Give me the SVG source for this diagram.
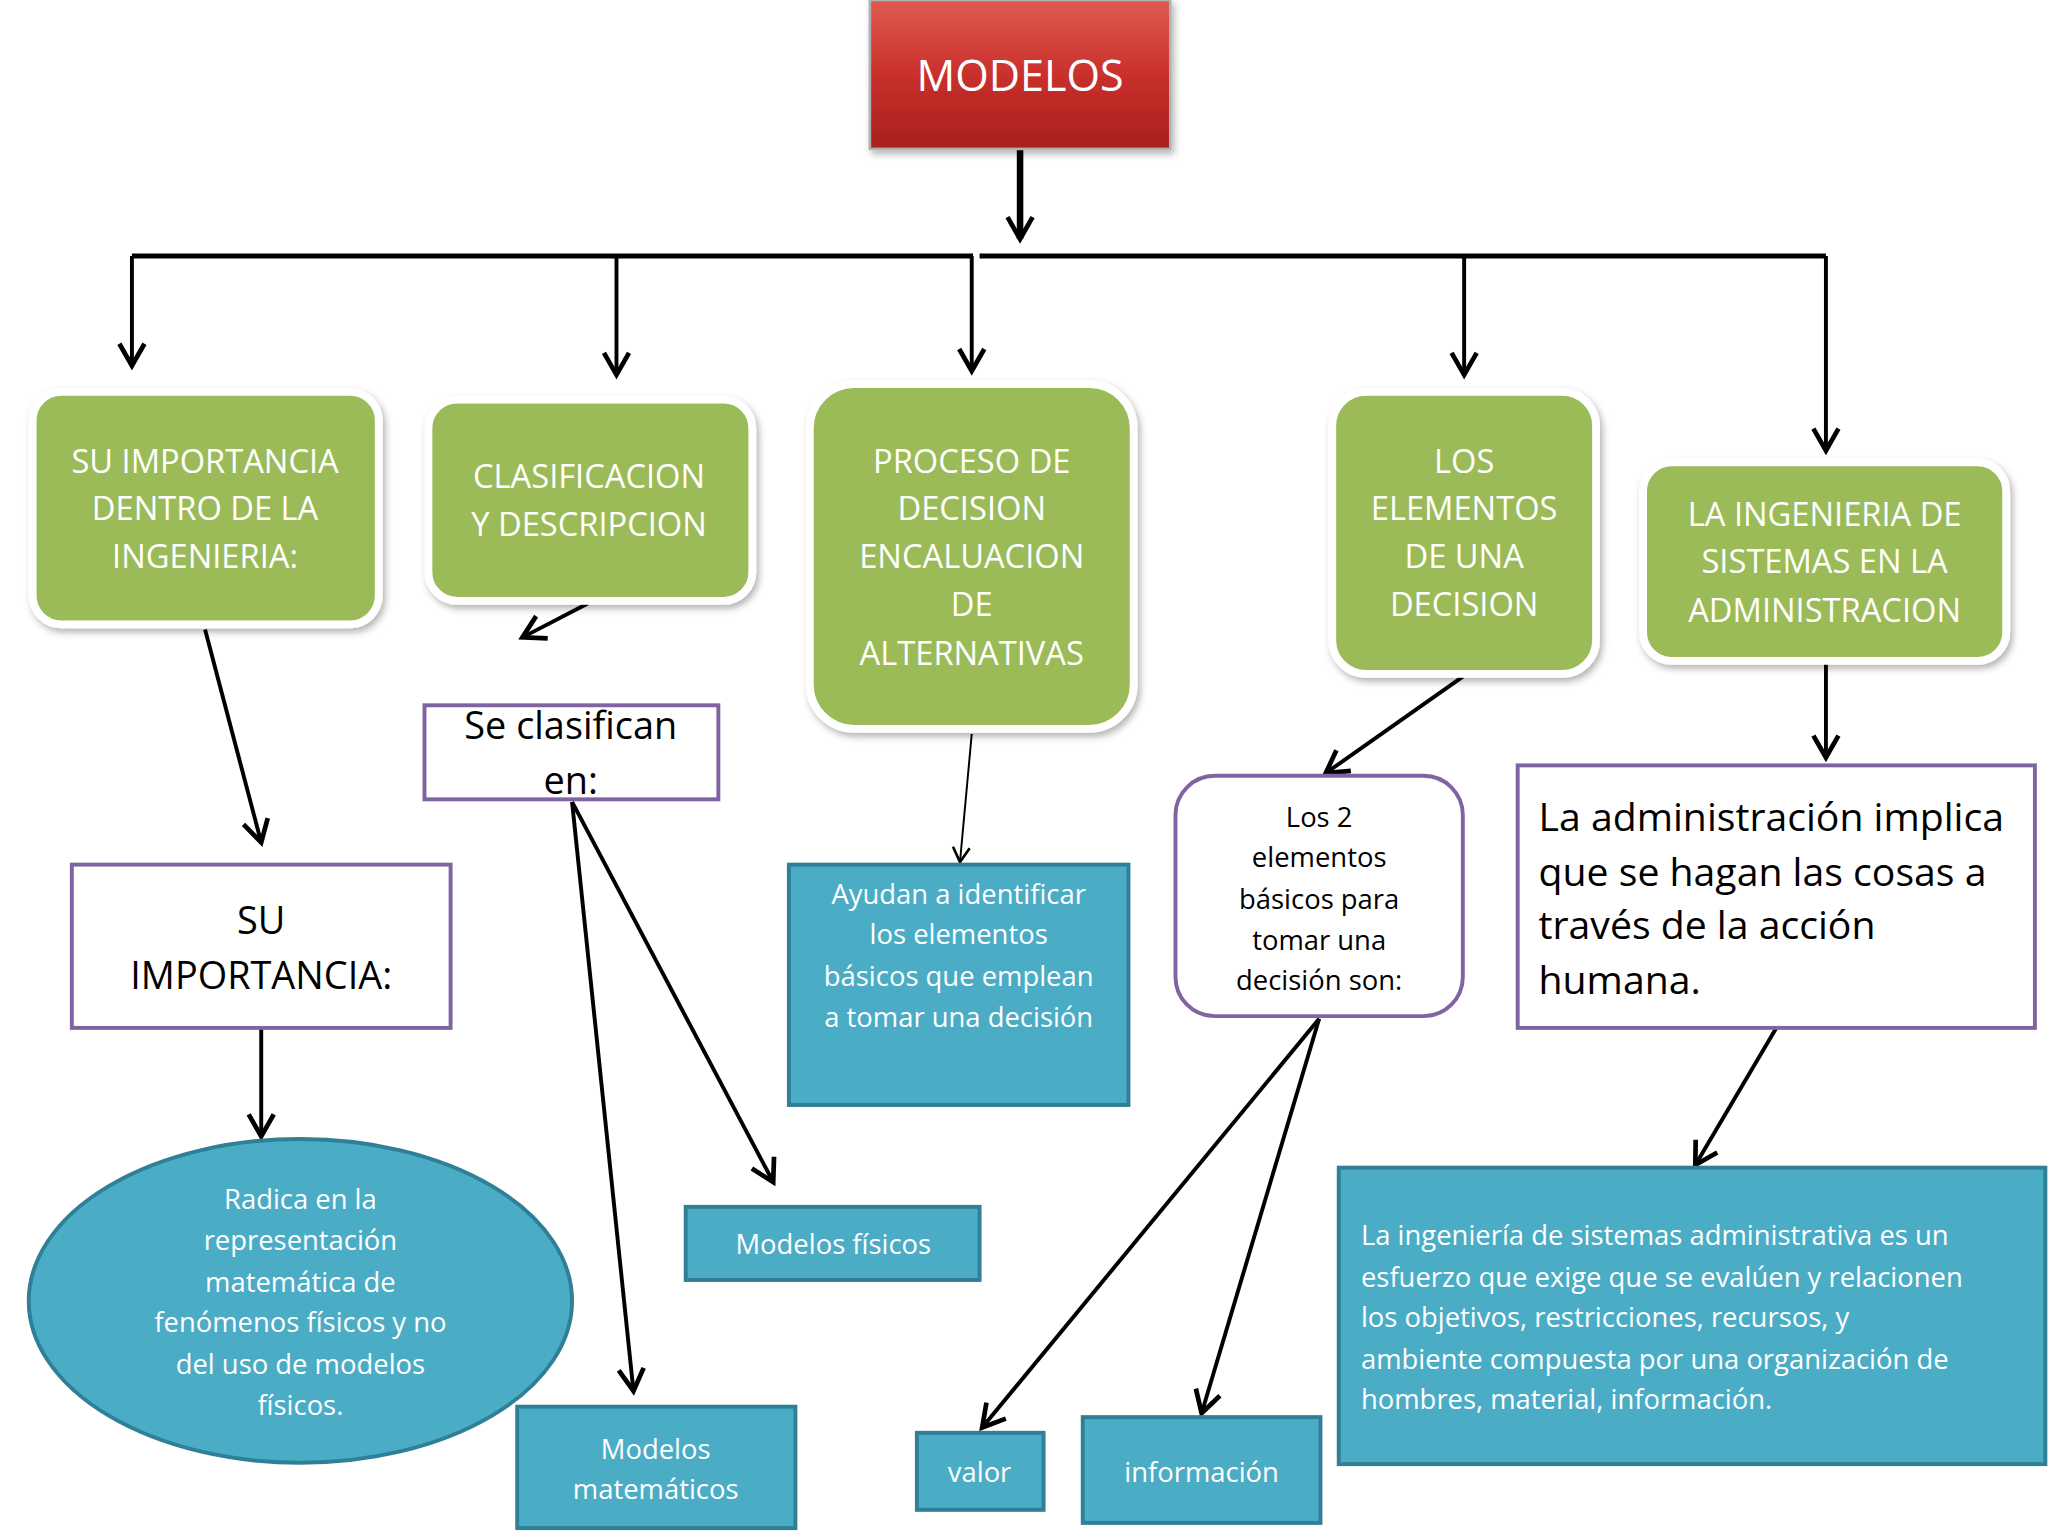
<svg xmlns="http://www.w3.org/2000/svg" width="2048" height="1536" viewBox="0 0 2048 1536">
<defs>
<linearGradient id="red" x1="0" y1="0" x2="0" y2="1"><stop offset="0" stop-color="#E05A50"/><stop offset="0.5" stop-color="#C9302C"/><stop offset="1" stop-color="#A8201C"/></linearGradient>
<marker id="ah" markerUnits="userSpaceOnUse" markerWidth="24" markerHeight="24" viewBox="0 0 20 20" refX="17" refY="10" orient="auto"><path d="M3,2 L17,10 L3,18" fill="none" stroke="#000" stroke-width="3"/></marker>
<marker id="ahs" markerUnits="userSpaceOnUse" markerWidth="16" markerHeight="16" viewBox="0 0 20 20" refX="17" refY="10" orient="auto"><path d="M3,2 L17,10 L3,18" fill="none" stroke="#000" stroke-width="2.5"/></marker>
<filter id="sh" x="-10%" y="-10%" width="130%" height="130%"><feDropShadow dx="2" dy="3" stdDeviation="3" flood-color="#000" flood-opacity="0.3"/></filter>
<style>
text{font-family:"Open Sans","Liberation Sans",sans-serif;text-anchor:middle}
.g{fill:#9BBB59;stroke:#fff;stroke-width:6;filter:url(#sh)}
.gt{fill:#fff;font-size:25px}
.w{fill:#fff;stroke:#8064A2;stroke-width:3}
.wt{fill:#000;font-size:29px}
.b{fill:#4BACC6;stroke:#2F7F97;stroke-width:3}
.bt{fill:#fff;font-size:21px}
.c{stroke:#000;fill:none}
</style>
</defs>
<rect width="2048" height="1536" fill="#fff"/>
<g transform="scale(1.3061)">
<g id="connectors">
<path class="c" stroke-width="5" d="M781,114 V183" marker-end="url(#ah)"/>
<path class="c" stroke-width="4" d="M101,196 H745 M750,196 H1398"/>
<path class="c" stroke-width="3" d="M101,196 V280" marker-end="url(#ah)"/>
<path class="c" stroke-width="3" d="M472,196 V287" marker-end="url(#ah)"/>
<path class="c" stroke-width="3" d="M744,196 V284" marker-end="url(#ah)"/>
<path class="c" stroke-width="3" d="M1121,196 V287" marker-end="url(#ah)"/>
<path class="c" stroke-width="3" d="M1398,196 V345" marker-end="url(#ah)"/>
<path class="c" stroke-width="3" d="M157,482 L200,645" marker-end="url(#ah)"/>
<path class="c" stroke-width="3" d="M450,462 L400,488" marker-end="url(#ah)"/>
<path class="c" stroke-width="1.5" d="M744,562 L735,660" marker-end="url(#ahs)"/>
<path class="c" stroke-width="3" d="M1120,518 L1015,592" marker-end="url(#ah)"/>
<path class="c" stroke-width="3" d="M1398,508 V580" marker-end="url(#ah)"/>
<path class="c" stroke-width="3" d="M200,787 V870" marker-end="url(#ah)"/>
<path class="c" stroke-width="3" d="M438,614 L485,1065" marker-end="url(#ah)"/>
<path class="c" stroke-width="3" d="M438,614 L592,905" marker-end="url(#ah)"/>
<path class="c" stroke-width="3" d="M1010,780 L752,1093" marker-end="url(#ah)"/>
<path class="c" stroke-width="3" d="M1010,780 L920,1082" marker-end="url(#ah)"/>
<path class="c" stroke-width="3" d="M1360,787 L1298,892" marker-end="url(#ah)"/>
</g>
<g id="modelos"><rect x="666" y="0" width="230" height="114" fill="url(#red)" stroke="#B0B0B0" stroke-width="2" filter="url(#sh)"/><text x="781" y="70" fill="#fff" font-size="33">MODELOS</text></g>
<g id="n1"><rect class="g" x="25" y="300" width="265" height="178" rx="22"/><text class="gt" x="157" y="362">SU IMPORTANCIA</text><text class="gt" x="157" y="398">DENTRO DE LA</text><text class="gt" x="157" y="435">INGENIERIA:</text></g>
<g id="n2"><rect class="g" x="328" y="306" width="248" height="154" rx="22"/><text class="gt" x="451" y="374">CLASIFICACION</text><text class="gt" x="451" y="410">Y DESCRIPCION</text></g>
<g id="n3"><rect class="g" x="620" y="294" width="248" height="264" rx="34"/><text class="gt" x="744" y="362">PROCESO DE</text><text class="gt" x="744" y="398">DECISION</text><text class="gt" x="744" y="435">ENCALUACION</text><text class="gt" x="744" y="472">DE</text><text class="gt" x="744" y="509">ALTERNATIVAS</text></g>
<g id="n4"><rect class="g" x="1020" y="300" width="202" height="216" rx="26"/><text class="gt" x="1121" y="362">LOS</text><text class="gt" x="1121" y="398">ELEMENTOS</text><text class="gt" x="1121" y="435">DE UNA</text><text class="gt" x="1121" y="472">DECISION</text></g>
<g id="n5"><rect class="g" x="1258" y="354" width="278" height="152" rx="22"/><text class="gt" x="1397" y="403">LA INGENIERIA DE</text><text class="gt" x="1397" y="439">SISTEMAS EN LA</text><text class="gt" x="1397" y="476">ADMINISTRACION</text></g>
<g id="clasifican"><rect class="w" x="325" y="540" width="225" height="72"/><text class="wt" x="437" y="566">Se clasifican</text><text class="wt" x="437" y="608">en:</text></g>
<g id="suimp"><rect class="w" x="55" y="662" width="290" height="125"/><text class="wt" x="200" y="715">SU</text><text class="wt" x="200" y="757">IMPORTANCIA:</text></g>
<g id="elem"><rect class="w" x="900" y="594" width="220" height="184" rx="30"/><text x="1010" y="633" font-size="21">Los  2</text><text x="1010" y="664" font-size="21">elementos</text><text x="1010" y="696" font-size="21">básicos para</text><text x="1010" y="727" font-size="21">tomar una</text><text x="1010" y="758" font-size="21">decisión son:</text></g>
<g id="admin"><rect class="w" x="1162" y="586" width="396" height="201"/><text style="text-anchor:start" x="1178" y="636" font-size="30">La administración implica</text><text style="text-anchor:start" x="1178" y="678" font-size="30">que se hagan las cosas a</text><text style="text-anchor:start" x="1178" y="719" font-size="30">través de la acción</text><text style="text-anchor:start" x="1178" y="761" font-size="30">humana.</text></g>
<g id="ayudan"><rect class="b" x="604" y="662" width="260" height="184"/><text class="bt" x="734" y="692">Ayudan a identificar</text><text class="bt" x="734" y="723">los elementos</text><text class="bt" x="734" y="755">básicos que emplean</text><text class="bt" x="734" y="786">a tomar una decisión</text></g>
<g id="radica"><ellipse class="b" cx="230" cy="996" rx="208" ry="124"/><text class="bt" x="230" y="926">Radica en la</text><text class="bt" x="230" y="957">representación</text><text class="bt" x="230" y="989">matemática de</text><text class="bt" x="230" y="1020">fenómenos físicos y no</text><text class="bt" x="230" y="1052">del uso de modelos</text><text class="bt" x="230" y="1083">físicos.</text></g>
<g id="fisicos"><rect class="b" x="525" y="924" width="225" height="56"/><text class="bt" x="638" y="960">Modelos físicos</text></g>
<g id="matematicos"><rect class="b" x="396" y="1077" width="213" height="93"/><text class="bt" x="502" y="1117">Modelos</text><text class="bt" x="502" y="1148">matemáticos</text></g>
<g id="valor"><rect class="b" x="702" y="1097" width="97" height="59"/><text class="bt" x="750" y="1135">valor</text></g>
<g id="informacion"><rect class="b" x="829" y="1085" width="182" height="81"/><text class="bt" x="920" y="1135">información</text></g>
<g id="ingenieria"><rect class="b" x="1025" y="894" width="541" height="227"/><g style="text-anchor:start"><text class="bt" style="text-anchor:start" x="1042" y="953">La ingeniería de sistemas administrativa es un</text><text class="bt" style="text-anchor:start" x="1042" y="985">esfuerzo que exige que se evalúen y relacionen</text><text class="bt" style="text-anchor:start" x="1042" y="1016">los objetivos, restricciones, recursos, y</text><text class="bt" style="text-anchor:start" x="1042" y="1048">ambiente compuesta por una organización de</text><text class="bt" style="text-anchor:start" x="1042" y="1079">hombres, material, información.</text></g></g>
</g>
</svg>
